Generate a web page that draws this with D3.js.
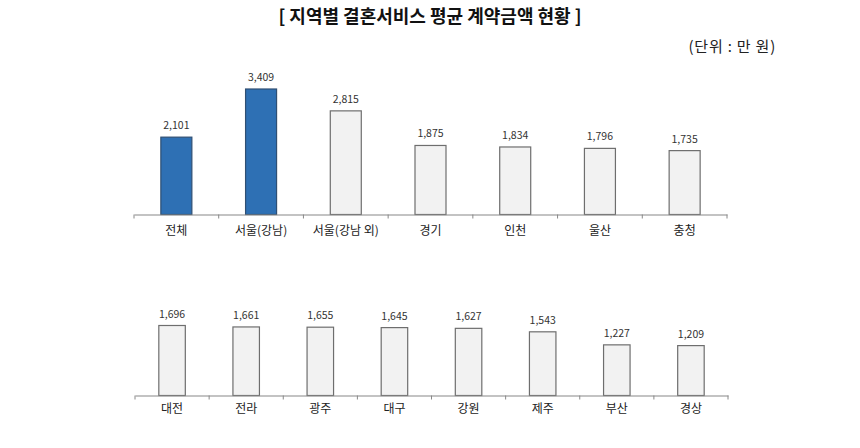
<!DOCTYPE html>
<html><head><meta charset="utf-8">
<script src="https://cdn.jsdelivr.net/npm/d3@7/dist/d3.min.js"></script>
<style>html,body{margin:0;padding:0;background:#fff;}svg{display:block;}</style>
</head><body>
<svg id="c" width="860" height="448"></svg>
<script>
const titleText = "[ 지역별 결혼서비스 평균 계약금액 현황 ]";
const unitText = "(단위 : 만 원)";
const topCategories = ["전체","서울(강남)","서울(강남 외)","경기","인천","울산","충청"];
const topValues = [2101,3409,2815,1875,1834,1796,1735];
const topHighlight = [true,true,false,false,false,false,false];
const bottomCategories = ["대전","전라","광주","대구","강원","제주","부산","경상"];
const bottomValues = [1696,1661,1655,1645,1627,1543,1227,1209];
const bottomHighlight = [false,false,false,false,false,false,false,false];

const svg = d3.select("#c");
const font = "'Noto Sans CJK KR','Noto Sans',sans-serif";

svg.append("text").attr("x",430).attr("y",23).attr("text-anchor","middle")
  .attr("font-family",font).attr("font-weight","bold").attr("font-size",18)
  .attr("fill","#111").text(titleText);
svg.append("text").attr("x",776).attr("y",52).attr("text-anchor","end")
  .attr("font-family",font).attr("font-size",15).attr("letter-spacing",0.8)
  .attr("fill","#222").text(unitText);

function panel(cats, vals, hl, x0, x1, yBase, pxPerUnit, barW, catY){
  const x = d3.scaleBand().domain(cats).range([x0,x1]).padding(0);
  const maxV = 4000;
  const y = d3.scaleLinear().domain([0,maxV]).range([yBase, yBase - maxV*pxPerUnit]);
  const g = svg.append("g");
  g.selectAll("rect").data(cats).enter().append("rect")
    .attr("x", d => x(d) + x.bandwidth()/2 - barW/2)
    .attr("y", (d,i) => y(vals[i]))
    .attr("width", barW)
    .attr("height", (d,i) => yBase - y(vals[i]))
    .attr("fill", (d,i) => hl[i] ? "#2e70b4" : "#f2f2f2")
    .attr("stroke", (d,i) => hl[i] ? "#2f4f73" : "#6e6e6e")
    .attr("stroke-width", 1.2);
  g.selectAll("text.v").data(cats).enter().append("text").attr("class","v")
    .attr("x", d => x(d) + x.bandwidth()/2)
    .attr("y", (d,i) => y(vals[i]) - 8)
    .attr("text-anchor","middle").attr("font-family",font).attr("font-size",10.5)
    .attr("fill","#333").text((d,i) => d3.format(",")(vals[i]));
  const axis = d3.axisBottom(x).tickSize(0).tickFormat("");
  const ag = g.append("g").attr("transform",`translate(0,${yBase})`).call(axis);
  ag.select(".domain").attr("stroke","#888").attr("stroke-width",1.2);
  const bounds = cats.map(c => x(c)).concat([x1]);
  g.selectAll("line.t").data(bounds).enter().append("line").attr("class","t")
    .attr("x1", d=>d).attr("x2", d=>d).attr("y1", yBase).attr("y2", yBase+4)
    .attr("stroke","#888").attr("stroke-width",1);
  g.selectAll("text.c").data(cats).enter().append("text").attr("class","c")
    .attr("x", d => x(d) + x.bandwidth()/2)
    .attr("y", catY)
    .attr("text-anchor","middle").attr("dominant-baseline","central")
    .attr("font-family",font).attr("font-size",12).attr("fill","#222").text(d => d);
}

panel(topCategories, topValues, topHighlight, 134, 727, 214.5, 125.5/3409, 31, 229.5);
panel(bottomCategories, bottomValues, bottomHighlight, 135, 728, 395.5, 70/1696, 26.5, 407);
</script>
</body></html>
